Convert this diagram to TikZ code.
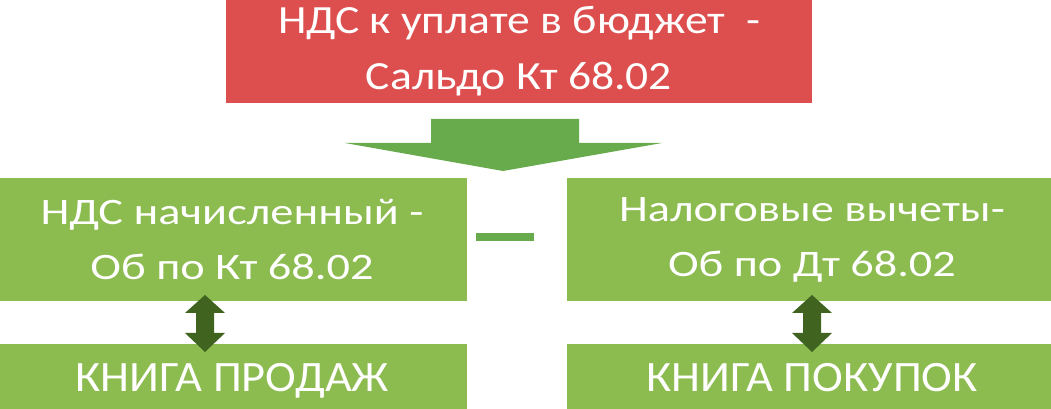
\documentclass[tikz,border=0pt]{standalone}
\usepackage{fontspec}
\setmainfont{Carlito}
\newfontfamily\saldofont{Carlito}[FakeStretch=1.14]
\newfontfamily\boxfont{Carlito}[FakeStretch=1.24]
\newfontfamily\bookfont{Carlito}[FakeStretch=1.07]
\usepackage{xcolor}
\usepackage{tikz}

\definecolor{saldored}{RGB}{221,78,78}
\definecolor{boxgreen}{RGB}{140,187,80}
\definecolor{arrowgreen}{RGB}{103,171,76}
\definecolor{darkgreen}{RGB}{64,100,32}

\begin{document}
\begin{tikzpicture}[x=0.75pt,y=0.75pt,yscale=-1,xscale=1,
  greenbox/.style={fill=boxgreen, text=white, align=center, inner sep=0pt},
  bookbox/.style={greenbox, minimum height=51pt, text height=21pt, text depth=0pt, font=\bookfont\fontsize{32.5}{40}\selectfont}
]

\useasboundingbox (0,0) rectangle (1051,409);
\clip (0,0) rectangle (1051,409);

% top box
\node (budget) [fill=saldored, text=white, align=center, inner sep=0pt, minimum width=439.5pt, minimum height=77.25pt, font=\saldofont\fontsize{30}{42}\selectfont] at (519,51.5) {НДС к уплате в бюджет~~-\\Сальдо Кт 68.02};

% big arrow
\fill [arrowgreen] (431,119) -- (579,119) -- (579,143) -- (662,143) -- (503,171) -- (345,143) -- (431,143) -- cycle;

% middle boxes
\node (accrued) [greenbox, minimum width=352.5pt, minimum height=92.25pt, font=\boxfont\fontsize{28}{41.25}\selectfont] at (232,239.5) {НДС начисленный -\\Об по Кт 68.02};

\node (deductions) [greenbox, minimum width=367.5pt, minimum height=92.25pt, font=\boxfont\fontsize{28}{41.25}\selectfont] at (812,239.5) {Налоговые вычеты-\\Об по Дт 68.02};

% minus
\fill [arrowgreen] (476,233) rectangle (534,241);

% books
\node (sales) [bookbox, minimum width=352.5pt] at (232,378) {КНИГА ПРОДАЖ};

\node (purchases) [bookbox, minimum width=367.5pt] at (812,378) {КНИГА ПОКУПОК};

% double arrows
\fill [darkgreen] (205,295) -- (225,313) -- (214,313) -- (214,333) -- (225,333) -- (205,352) -- (185,333) -- (196,333) -- (196,313) -- (185,313) -- cycle;

\fill [darkgreen] (812,295) -- (832,313) -- (821,313) -- (821,333) -- (832,333) -- (812,352) -- (792,333) -- (803,333) -- (803,313) -- (792,313) -- cycle;

\end{tikzpicture}
\end{document}
